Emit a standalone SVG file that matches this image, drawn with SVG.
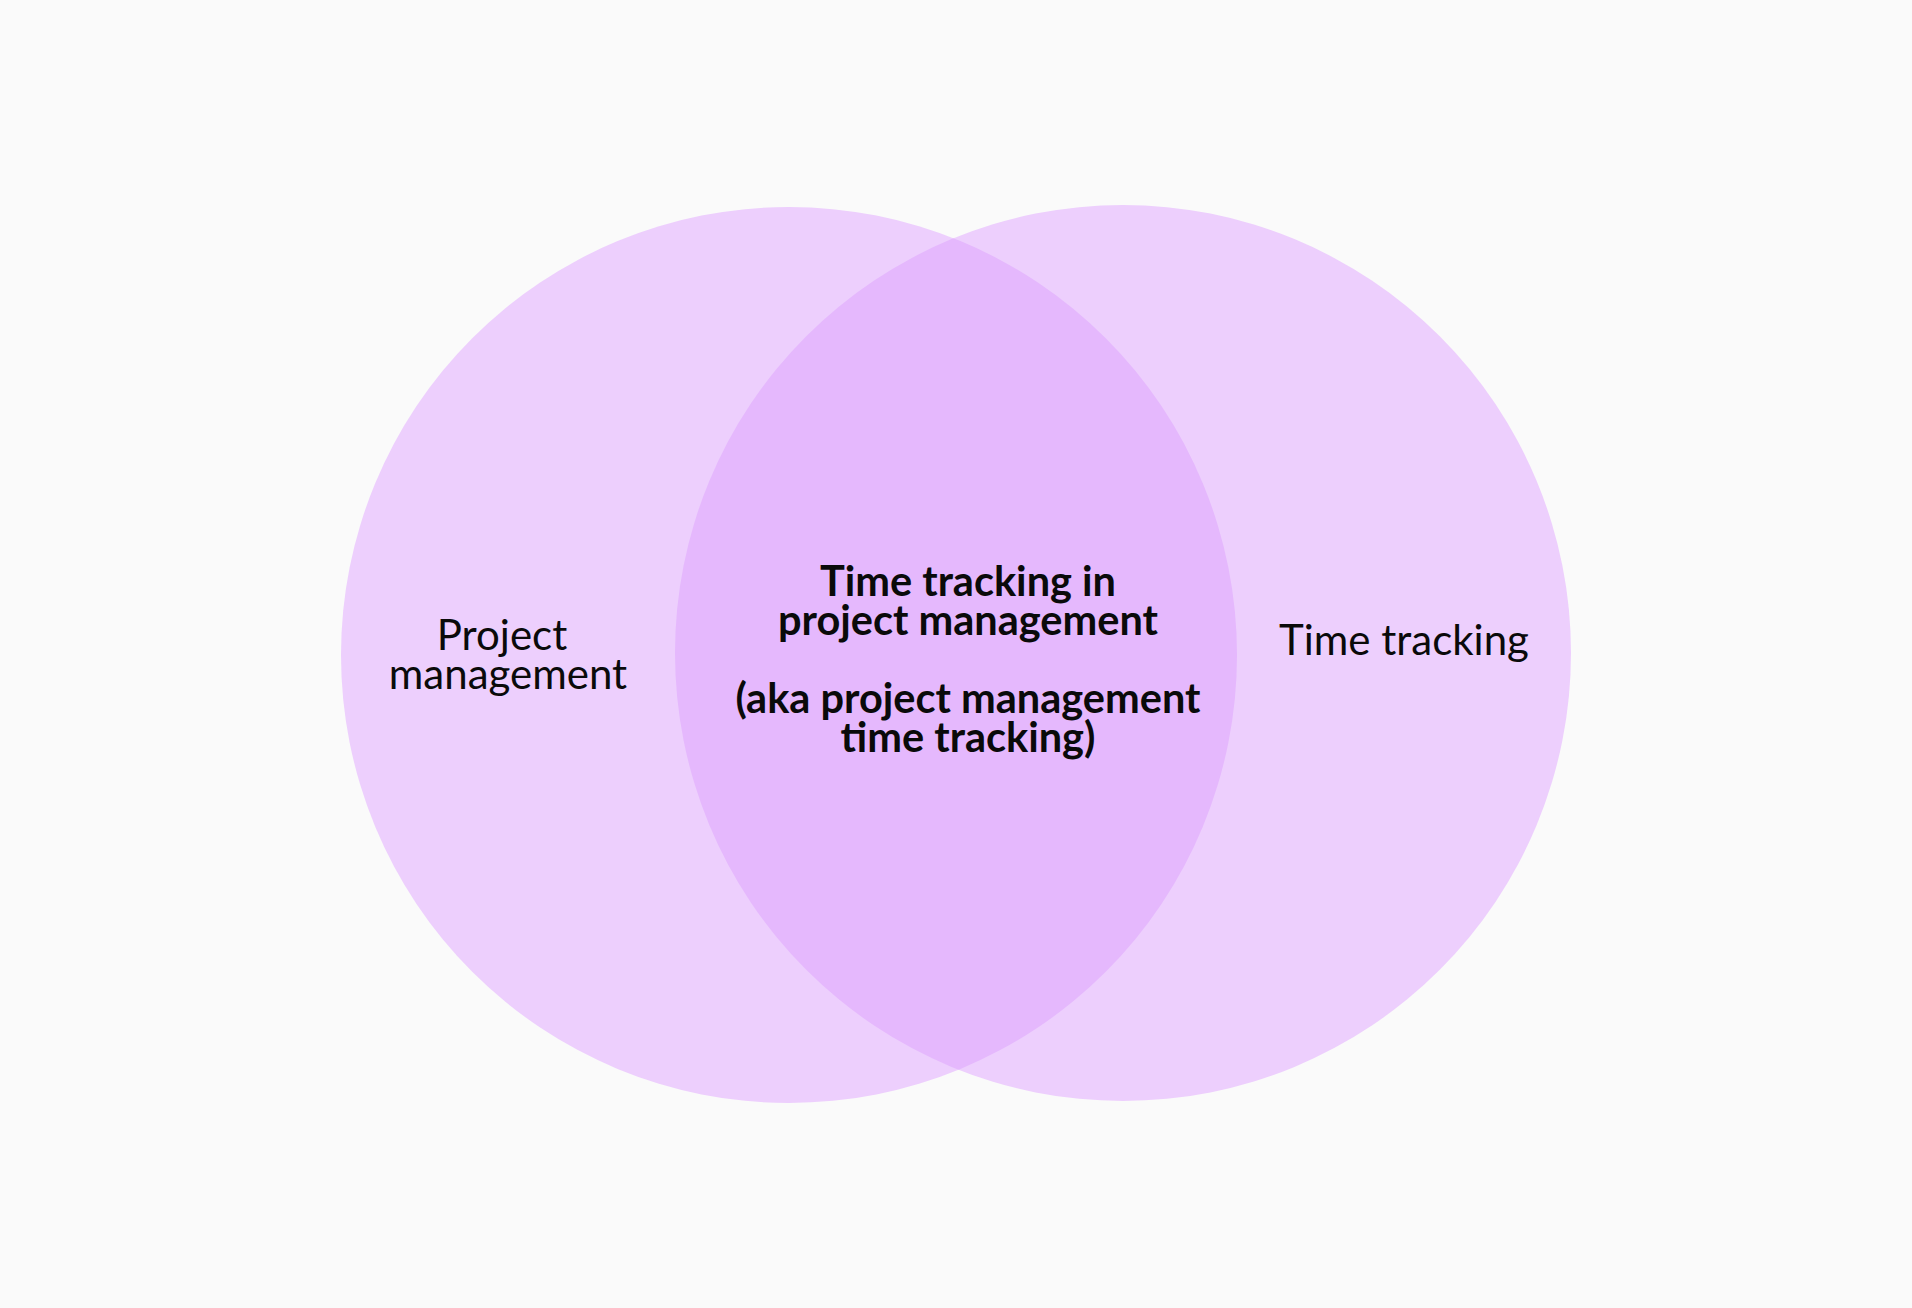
<svg xmlns="http://www.w3.org/2000/svg" width="1912" height="1308" viewBox="0 0 1912 1308">
<style>
.lbl{font-family:Lato,"Open Sans","Liberation Sans",sans-serif;font-size:42px;fill:#0a0a0a;text-anchor:middle}
.b{font-weight:700;font-size:41.5px}
.c{fill:#EDCFFD}
.o{fill:#E5B8FD}
</style>
<defs>
<clipPath id="clipL"><circle cx="789" cy="655" r="448"/></clipPath>
</defs>
<rect width="1912" height="1308" fill="#FAFAFA"/>
<g id="pm">
<circle class="c" cx="789" cy="655" r="448"/>
</g>
<g id="tt">
<circle class="c" cx="1123" cy="653" r="448"/>
</g>
<g id="overlap">
<circle class="o" cx="1123" cy="653" r="448" clip-path="url(#clipL)"/>
</g>
<g id="connectors"></g>
<g id="pm-label">
<text class="lbl" x="502" y="650">Project</text>
<text class="lbl" x="508" y="689">management</text>
</g>
<g id="tt-label">
<text class="lbl" x="1404" y="655">Time tracking</text>
</g>
<g id="overlap-label">
<text class="lbl b" x="968" y="596">Time tracking in</text>
<text class="lbl b" x="968" y="635">project management</text>
<text class="lbl b" x="968" y="713">(aka project management</text>
<text class="lbl b" x="968" y="752">time tracking)</text>
</g>
</svg>
